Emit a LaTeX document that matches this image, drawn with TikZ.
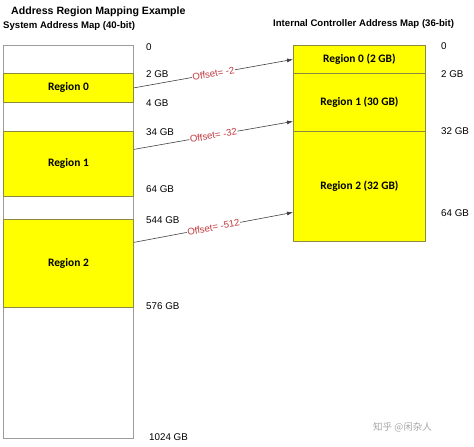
\documentclass[tikz,border=0pt]{standalone}
\usepackage{fontspec}
\setmainfont{Liberation Sans}
\newfontfamily\regionfont{Carlito}
\newfontfamily\cjk{Noto Sans CJK SC}
\usetikzlibrary{positioning,arrows.meta}
\definecolor{regyellow}{HTML}{FFFF00}
\definecolor{regedge}{HTML}{8A8A40}
\definecolor{mapgray}{HTML}{9C9C9C}
\definecolor{offred}{HTML}{C23A40}
\tikzset{
	region/.style = {draw=regedge, fill=regyellow, line width=0.8pt, anchor=north west,
	 inner sep=0pt, font=\regionfont\bfseries\fontsize{11.4}{12}\selectfont},
	addr/.style = {anchor=west, inner sep=0pt, font=\fontsize{9.8}{11}\selectfont},
	heading/.style = {anchor=west, inner sep=0pt, font=\bfseries\fontsize{9.6}{10}\selectfont},
	offset/.style = {text=offred, fill=white, inner sep=0.6pt, sloped, font=\fontsize{9.6}{10}\selectfont},
	map/.style = {-{Latex[length=6pt,width=4pt]}, draw=black!75, line width=0.6pt}
	}

\begin{document}
\begin{tikzpicture}[x=1pt, y=-1pt]
\useasboundingbox (0,0) rectangle (474,447);

% TITLES
\node (title) [heading, font=\bfseries\fontsize{10.6}{12}\selectfont] at (11,12) {Address Region Mapping Example};
\node (systitle) [heading] at (3,26) {System Address Map (40-bit)};
\node (ctltitle) [heading] at (273,24) {Internal Controller Address Map (36-bit)};

% NODES
% system address map
\node (sysmap) [draw=mapgray, line width=1.4pt, anchor=north west, minimum width=130, minimum height=393, inner sep=0pt] at (3,45) {};
\node (sr0) [region, minimum width=130, minimum height=29] at (3,73) {Region 0};
\node (sr1) [region, minimum width=130, minimum height=65] at (3,131) {Region 1};
\node (sr2) [region, minimum width=130, minimum height=88] at (3,219) {Region 2};
% controller address map
\node (cr0) [region, minimum width=132, minimum height=28] at (293,45) {Region 0 (2 GB)};
\node (cr1) [region, minimum width=132, minimum height=58] at (293,73) {Region 1 (30 GB)};
\node (cr2) [region, minimum width=132, minimum height=110] at (293,131) {Region 2 (32 GB)};

% addresses
\node (s0) [addr] at (146,47) {0};
\node (s2) [addr] at (146,74) {2 GB};
\node (s4) [addr] at (146,103) {4 GB};
\node (s34) [addr] at (146,132) {34 GB};
\node (s64) [addr] at (146,189) {64 GB};
\node (s544) [addr] at (146,220) {544 GB};
\node (s576) [addr] at (146,306) {576 GB};
\node (s1024) [addr] at (149,437) {1024 GB};
\node (c0) [addr] at (441,46) {0};
\node (c2) [addr] at (441,74) {2 GB};
\node (c32) [addr] at (441,131) {32 GB};
\node (c64) [addr] at (441,213) {64 GB};

\node (mark) [anchor=west, inner sep=0pt, text=black!35, font=\cjk\fontsize{9.5}{10}\selectfont] at (373,427) {知乎 @闲杂人};

% CONNECTIONS
\draw [map] (sr0.east) -- node [offset] {Offset= -2} (cr0.west);
\draw [map] ([yshift=14.5pt]sr1.east) -- node [offset] {Offset= -32} ([yshift=-19pt]cr1.west);
\draw [map] ([yshift=21pt]sr2.east) -- node [offset] {Offset= -512} ([yshift=-26pt]cr2.west);

\end{tikzpicture}
\end{document}
